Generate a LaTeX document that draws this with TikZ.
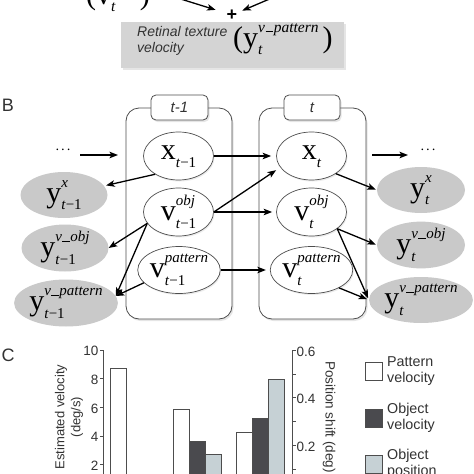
\documentclass[tikz,border=0pt]{standalone}
\usepackage{fontspec}
\setmainfont{Liberation Serif}
\setsansfont{Liberation Sans}
\usetikzlibrary{arrows.meta,shapes.geometric,shadows}

\definecolor{obsgray}{HTML}{C9C9C9}
\definecolor{boxgray}{HTML}{D4D4D4}
\definecolor{darkbar}{HTML}{4A4A4E}
\definecolor{lightbar}{HTML}{C6D1D5}
\definecolor{linegray}{HTML}{4D4D4D}
\definecolor{txtgray}{HTML}{333333}

\newcommand\us{\kern0.03em\rule[-0.03em]{0.5em}{0.07em}\kern0.03em}
\newcommand\Sym[5]{%
  \mbox{\fontsize{#1}{#1}\selectfont #2}%
  \setbox0=\hbox{\fontsize{#3}{#3}\selectfont #4}%
  \setbox2=\hbox{\fontsize{#3}{#3}\selectfont #5}%
  \ifdim\wd0>\wd2 \dimen0=\wd0 \else \dimen0=\wd2 \fi
  \hbox to \dimen0{\rlap{\raise\dimexpr #1pt*50/100\relax\box0}\lower\dimexpr #1pt*25/100\relax\box2\hss}}
\newcommand\tmo{\textit{t}−1}

\begin{document}
\begin{tikzpicture}[x=1pt,y=-1pt,
  arr/.style={-{Stealth[length=8.5pt,width=6.5pt,inset=2pt]}, line width=1.3pt, shorten >=2pt},
  latent/.style={ellipse, draw=linegray, line width=0.7pt, fill=white, minimum width=70pt, minimum height=48pt, inner sep=0pt,
     drop shadow={opacity=0.15,shadow xshift=1pt,shadow yshift=-1.5pt}},
  obs/.style={ellipse, fill=obsgray, minimum width=87pt, minimum height=46pt, inner sep=0pt},
  plate/.style={rectangle, draw=linegray, line width=0.8pt, fill=white, rounded corners=13pt, inner sep=0pt,
     drop shadow={opacity=0.2,shadow xshift=1.5pt,shadow yshift=-2pt}},
  tabbox/.style={rectangle, draw=linegray, line width=0.8pt, fill=white, rounded corners=5pt, minimum width=57pt, minimum height=25pt, inner sep=0pt,
     font=\sffamily\itshape\fontsize{15}{15}\selectfont, text=txtgray,
     drop shadow={opacity=0.2,shadow xshift=1.5pt,shadow yshift=-2pt}},
  plbl/.style={font=\sffamily\fontsize{18}{18}\selectfont, text=txtgray, inner sep=0pt},
  tick/.style={font=\sffamily\fontsize{13.5}{13.5}\selectfont, text=txtgray, inner sep=0pt},
  axis/.style={draw=linegray, line width=0.8pt},
  bar/.style={draw=linegray, line width=1pt},
  leg/.style={font=\sffamily\fontsize{14.3}{15.5}\selectfont, text=txtgray, align=left, anchor=west, inner sep=0pt}
]
\clip (0,0) rectangle (474,474);
\fill[white] (0,0) rectangle (474,474);

% ---------- Panel A (partial) ----------
\node[anchor=base west, inner sep=0pt, font=\fontsize{30}{30}\selectfont] (vtop) at (86,4) {(\Sym{30}{v}{15.5}{\textit{obj}}{\textit{t}}\kern9pt)};
\node[circle, minimum size=18pt, inner sep=0pt, font=\sffamily\bfseries\fontsize{18}{18}\selectfont] (plus) at (232,15) {+};
\coordinate (ain1) at (155,-9);
\coordinate (ain2) at (293,-11);
\draw[arr, shorten >=8pt] (ain1) -- (plus);
\draw[arr, shorten >=2pt] (ain2) -- (plus);
\node[rectangle, fill=boxgray, minimum width=223pt, minimum height=46pt, inner sep=0pt,
  drop shadow={opacity=0.2,shadow xshift=1.5pt,shadow yshift=-2pt}] (abox) at (232.5,45) {};
\node[anchor=west, align=left, inner sep=0pt, font=\sffamily\itshape\fontsize{14}{16}\selectfont, text=txtgray] (atext) at (137,41) {Retinal texture\\velocity};
\node[anchor=base west, inner sep=0pt, font=\fontsize{30}{30}\selectfont] (aform) at (233,47) {(\Sym{30}{y}{15.5}{\textit{v\us pattern}}{\textit{t}}\kern4pt)};

% ---------- Panel B ----------
\node[plbl] (B) at (8,105) {B};
\node[plate, minimum width=106pt, minimum height=211pt] (P1) at (179,213.5) {};
\node[plate, minimum width=107pt, minimum height=211pt] (P2) at (312.5,213.5) {};
\node[tabbox] (T1) at (179.5,107.5) {t-1};
\node[tabbox, minimum width=56pt] (T2) at (312,107.5) {t};

\node[latent] (x1) at (178.5,156) {\Sym{30}{x}{15}{}{\tmo}};
\node[latent] (vobj1) at (178.5,212) {\Sym{30}{v}{15}{\textit{obj}}{\tmo}};
\node[latent, minimum width=72pt, minimum height=47pt] (vpat1) at (179,270) {\Sym{30}{v}{15}{\textit{pattern}}{\tmo}};
\node[latent] (x2) at (311.5,156) {\Sym{30}{x}{15}{}{\textit{t}}};
\node[latent] (vobj2) at (311.5,212) {\Sym{30}{v}{15}{\textit{obj}}{\textit{t}}};
\node[latent, minimum width=72pt, minimum height=47pt] (vpat2) at (311.5,270) {\Sym{30}{v}{15}{\textit{pattern}}{\textit{t}}};

\node[obs] (yx1) at (64,195) {\Sym{30}{y}{15}{\textit{x}}{\tmo}};
\node[obs, minimum height=47pt] (yvobj1) at (65,248) {\Sym{30}{y}{15}{\textit{v\us obj}}{\tmo}};
\node[obs, minimum width=88pt, minimum height=47pt] (yvpat1) at (66,303) {\Sym{30}{y}{15}{\textit{v\us pattern}}{\tmo}};
\node[obs, minimum width=88pt] (yx2) at (421,190) {\Sym{30}{y}{15}{\textit{x}}{\textit{t}}};
\node[obs, minimum width=88pt] (yvobj2) at (421,245) {\Sym{30}{y}{15}{\textit{v\us obj}}{\textit{t}}};
\node[obs, minimum width=88pt] (yvpat2) at (421,300) {\Sym{30}{y}{15}{\textit{v\us pattern}}{\textit{t}}};

\node[inner sep=0pt, font=\fontsize{14}{14}\selectfont] (dl) at (63,152) {·\kern1pt·\kern1pt·};
\node[inner sep=0pt, font=\fontsize{14}{14}\selectfont] (dr) at (428,152) {·\kern1pt·\kern1pt·};
\coordinate (al0) at (80,155);
\coordinate (al) at (118,155);
\coordinate (ar) at (372,155);
\coordinate (ar1) at (408,155);
\draw[arr, shorten >=0pt] (al0) -- (al);
\draw[arr, shorten >=0pt] (ar) -- (ar1);

\draw[arr, shorten >=5pt] (x1) -- (x2);
\draw[arr, shorten >=5pt] (vobj1.east) -- (x2.200);
\draw[arr, shorten >=4pt] (vobj1) -- (vobj2);
\draw[arr, shorten >=4pt] (vpat1) -- (vpat2);

\draw[arr] (x1.218) -- (yx1);
\draw[arr, shorten >=0pt] (vobj1.200) -- (yvobj1.east);
\draw[arr, shorten >=0pt] (vobj1.200) -- (yvpat1.8);
\draw[arr, shorten >=0pt] (vpat1.200) -- (yvpat1.8);

\draw[arr, shorten >=1pt] (x2.324) -- (yx2.west);
\draw[arr, shorten >=1pt] (vobj2.327) -- (yvobj2.west);
\draw[arr, shorten >=2pt] (vobj2.327) -- (yvpat2.west);
\draw[arr, shorten >=2pt] (vpat2.327) -- (yvpat2.west);

% ---------- Panel C ----------
\node[plbl] (C) at (8,355) {C};
% bars
\draw[bar, fill=white] (110,368) rectangle (126,480);
\draw[bar, fill=white] (173,409) rectangle (189,480);
\draw[bar, fill=darkbar] (189,441) rectangle (205,480);
\draw[bar, fill=lightbar] (205,454) rectangle (221,480);
\draw[bar, fill=white] (236,432) rectangle (252,480);
\draw[bar, fill=darkbar] (252,418) rectangle (268,480);
\draw[bar, fill=lightbar] (268,379) rectangle (284,480);
% left axis
\draw[axis] (103,350) -- (103,480);
\foreach \v/\l in {10/10,8/8,6/6,4/4,2/2}{
  \draw[axis] (100,{493.5-14.35*\v}) -- (103,{493.5-14.35*\v});
  \node[tick, anchor=east] at (98.5,{493.5-14.35*\v+1}) {\l};
}
\node[rotate=90, align=center, inner sep=0pt, font=\sffamily\fontsize{13}{16}\selectfont, text=txtgray] (ylab) at (69,417) {Estimated velocity\\(deg/s)};
% right axis
\draw[axis] (292,350) -- (292,480);
\foreach \v in {1,2,3,4,5,6}{
  \draw[axis] (292,{492.6-23.7*\v}) -- (295.5,{492.6-23.7*\v});
}
\foreach \v/\l in {2/0.2,4/0.4,6/0.6}{
  \node[tick, anchor=west] at (296.5,{492.6-23.7*\v+1.5}) {\l};
}
\node[rotate=-90, anchor=west, inner sep=0pt, font=\sffamily\fontsize{13.5}{13.5}\selectfont, text=txtgray] (y2lab) at (329,361) {Position shift (deg)};
% legend
\draw[bar, fill=white] (365,362) rectangle (382,380);
\draw[bar, fill=darkbar] (365,409) rectangle (382,427);
\draw[bar, fill=lightbar] (365,455) rectangle (382,473);
\node[leg] (l1) at (387,371) {Pattern\\velocity};
\node[leg] (l2) at (387,418) {Object\\velocity};
\node[leg] (l3) at (387,464) {Object\\position};
\end{tikzpicture}
\end{document}
